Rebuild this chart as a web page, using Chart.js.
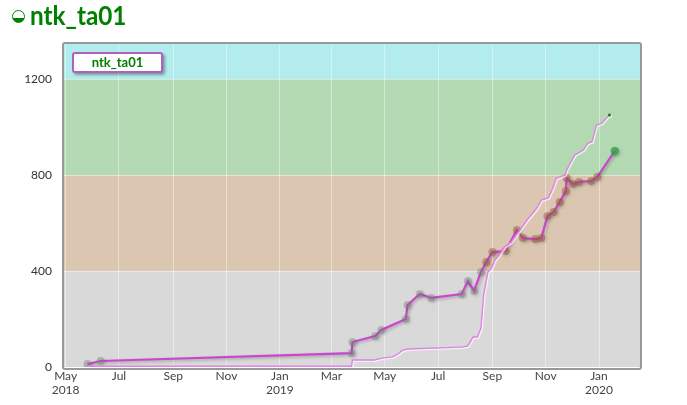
<!DOCTYPE html>
<html><head><meta charset="utf-8">
<style>
html,body{margin:0;padding:0;background:#fff;width:687px;height:405px;overflow:hidden}
#wrap{position:relative;width:687px;height:405px;font-family:Lato,sans-serif}
canvas{position:absolute;left:0;top:0}
#title{position:absolute;left:30px;top:-2px;font-size:27px;font-weight:700;color:#008000;line-height:34px;transform:scaleX(.9);transform-origin:left top}
#icon{position:absolute;left:12px;top:10px;width:11px;height:11px;border:1.5px solid #008000;border-radius:50%;background:linear-gradient(#fff 68%,#008000 68%)}
#legend{position:absolute;left:72px;top:52px;width:87px;height:17px;border:2px solid #b45fc0;border-radius:3px;background:#fff;box-shadow:2px 2px 3px rgba(0,0,0,.35);color:#008000;font-size:13px;font-weight:700;text-align:center;line-height:17px}
</style></head>
<body><div id="wrap">
<canvas id="c" width="687" height="405"></canvas>
<div id="icon"></div><div id="title">ntk_ta01</div><div id="legend">ntk_ta01</div>
</div>
<script src="https://cdn.jsdelivr.net/npm/chart.js@4"></script>
<script>
const seriesName = "ntk_ta01";
const mainDates = ["2018-05-26","2018-06-10","2019-03-24","2019-03-25","2019-04-20","2019-04-27","2019-05-25","2019-05-27","2019-06-10","2019-06-23","2019-07-28","2019-08-04","2019-08-11","2019-08-19","2019-08-25","2019-09-01","2019-09-16","2019-09-29","2019-10-06","2019-10-20","2019-10-27","2019-11-03","2019-11-10","2019-11-17","2019-11-24","2019-11-25","2019-12-02","2019-12-09","2019-12-23","2019-12-30","2020-01-19"];
const mainValues = [12,25,58,104,129,154,200,258,304,288,304,358,317,396,437,479,483,571,537,533,537,629,646,688,733,788,763,771,775,792,900];
const thinDates = ["2018-05-26","2019-03-24","2019-03-25","2019-04-19","2019-04-28","2019-05-10","2019-05-16","2019-05-21","2019-05-27","2019-07-28","2019-08-04","2019-08-10","2019-08-15","2019-08-19","2019-08-22","2019-08-27","2019-08-31","2019-09-04","2019-09-09","2019-09-15","2019-09-23","2019-10-04","2019-10-12","2019-10-18","2019-10-23","2019-10-27","2019-11-04","2019-11-09","2019-11-13","2019-11-23","2019-11-25","2019-12-04","2019-12-14","2019-12-19","2019-12-24","2019-12-29","2020-01-04","2020-01-09","2020-01-13"];
const thinValues = [3,3,29,29,37,42,54,69,75,83,88,125,125,162,300,396,411,446,467,501,522,578,619,644,668,696,705,744,786,800,821,883,904,932,939,1008,1015,1036,1050];
const xTickDates = ["2018-05-01","2018-07-01","2018-09-01","2018-11-01","2019-01-01","2019-03-01","2019-05-01","2019-07-01","2019-09-01","2019-11-01","2020-01-01"];
const xTickLabels = [["May","2018"],"Jul","Sep","Nov",["Jan","2019"],"Mar","May","Jul","Sep","Nov",["Jan","2020"]];
const yTickValues = [0,400,800,1200];
const bandEdges = [0,400,800,1200,1350];
const bandColors = ["#d9d9d9","#dbc6b2","#b3d9b3","#b2ecec"];
const xMinDate = "2018-04-28", xMaxDate = "2020-02-18";

const ms = s => Date.parse(s + "T00:00:00Z");
const pts = (d,v) => d.map((s,i)=>({x:ms(s),y:v[i]}));
const tickMs = xTickDates.map(ms);
const bandColorFor = v => v>=800 ? "rgba(60,160,75,.8)" : v>=400 ? "rgba(160,95,65,.5)" : "rgba(130,130,130,.42)";

const bands = {id:"bands",
  beforeDraw(ch){const {ctx,chartArea:a,scales:{y}}=ch;ctx.save();
    bandColors.forEach((c,i)=>{const t=y.getPixelForValue(bandEdges[i+1]),b=y.getPixelForValue(bandEdges[i]);ctx.fillStyle=c;ctx.fillRect(a.left,t,a.right-a.left,b-t);});
    ctx.restore();},
  afterDraw(ch){const {ctx,chartArea:a}=ch;ctx.save();ctx.strokeStyle="#999";ctx.lineWidth=2;
    ctx.beginPath();ctx.roundRect(a.left,a.top,a.right-a.left,a.bottom-a.top+2,2);ctx.stroke();ctx.restore();}
};
const shadows = {id:"shadows",
  beforeDatasetDraw(ch,args){const c=ch.ctx;c.save();
    if(args.index===1){c.shadowColor="rgba(0,0,0,.25)";c.shadowBlur=3;c.shadowOffsetX=1.5;c.shadowOffsetY=1.5;}
    else{c.shadowColor="rgba(255,255,255,.9)";c.shadowBlur=1;c.shadowOffsetX=1;c.shadowOffsetY=1;}},
  afterDatasetDraw(ch){ch.ctx.restore();}
};
new Chart(document.getElementById("c"),{type:"line",
  data:{datasets:[
    {label:seriesName+" total",data:pts(thinDates,thinValues),borderColor:"#e082e6",borderWidth:1.4,tension:0,clip:false,
     pointRadius:c=>c.dataIndex===thinValues.length-1?1.5:0,pointBackgroundColor:"#0a7a1e",pointBorderWidth:0},
    {label:seriesName,data:pts(mainDates,mainValues),borderColor:"#cb45d0",borderWidth:2.2,tension:0,
     pointRadius:c=>c.dataIndex===mainValues.length-1?4.2:4,pointBorderWidth:0,
     pointBackgroundColor:c=>bandColorFor(c.raw.y)}
  ]},
  options:{responsive:false,animation:false,devicePixelRatio:1,
    layout:{padding:{left:0,top:43,right:46,bottom:0}},
    plugins:{legend:{display:false},title:{display:false},tooltip:{enabled:false}},
    scales:{
      x:{type:"linear",min:ms(xMinDate),max:ms(xMaxDate),
        afterFit(s){s.height=38;},
        afterBuildTicks(s){s.ticks=tickMs.map(v=>({value:v}));},
        grid:{color:"rgba(255,255,255,.42)",lineWidth:1,drawTicks:false},border:{display:false},
        ticks:{autoSkip:false,maxRotation:0,padding:3,color:"#444",font:{family:"Lato",size:12,lineHeight:1.1},
          callback(v){const i=tickMs.indexOf(v);return i<0?"":xTickLabels[i];}}},
      y:{type:"linear",min:0,max:1350,
        afterFit(s){s.width=63;},
        afterBuildTicks(s){s.ticks=yTickValues.map(v=>({value:v}));},
        grid:{color:"rgba(255,255,255,.45)",lineWidth:1,drawTicks:false},border:{display:false},
        ticks:{padding:11,color:"#333",font:{family:"Lato",size:12},callback:v=>String(v)}}
    }},
  plugins:[bands,shadows]});
</script></body></html>
